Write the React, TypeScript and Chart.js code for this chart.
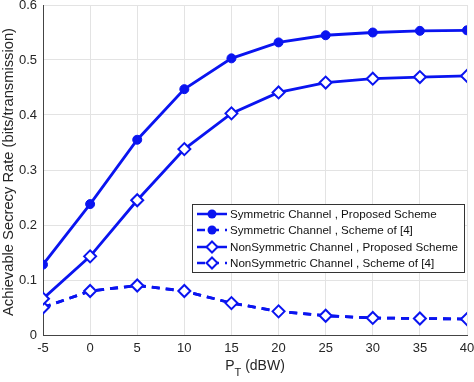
import React, { useEffect, useRef } from "react";
import { Chart, registerables } from "chart.js";

Chart.register(...registerables);

const xValues = [-5, 0, 5, 10, 15, 20, 25, 30, 35, 40];
const symProposed = [0.128, 0.238, 0.355, 0.447, 0.503, 0.532, 0.545, 0.55, 0.553, 0.554];
const symScheme4 = [0.05, 0.08, 0.09, 0.08, 0.058, 0.043, 0.035, 0.031, 0.03, 0.029];
const nonSymProposed = [0.066, 0.143, 0.245, 0.338, 0.403, 0.441, 0.459, 0.466, 0.469, 0.471];
const nonSymScheme4 = [0.05, 0.08, 0.09, 0.08, 0.058, 0.043, 0.035, 0.031, 0.03, 0.029];
const seriesLabels = [
  "Symmetric Channel , Proposed Scheme",
  "Symmetric Channel , Scheme of [4]",
  "NonSymmetric Channel , Proposed Scheme",
  "NonSymmetric Channel , Scheme of [4]",
];
const xTicks = [-5, 0, 5, 10, 15, 20, 25, 30, 35, 40];
const yTicks = [0, 0.1, 0.2, 0.3, 0.4, 0.5, 0.6];
const yTitle = "Achievable Secrecy Rate (bits/transmission)";

const BLUE = "#0a14f0";
const FONT = "'Liberation Sans', Arial, sans-serif";

function fitFont(ctx: CanvasRenderingContext2D, text: string, target: number) {
  ctx.font = `12px ${FONT}`;
  const w = ctx.measureText(text).width;
  return (12 * target) / w;
}

function zeroPad(s: any) {
  s.paddingTop = 0;
  s.paddingBottom = 0;
  s.paddingLeft = 0;
  s.paddingRight = 0;
}

const titlesAndLegend = {
  id: "titlesAndLegend",
  afterDraw(chart: any) {
    const ctx = chart.ctx;
    const area = chart.chartArea;
    ctx.save();
    // x title with subscript
    ctx.fillStyle = "#262626";
    ctx.textBaseline = "alphabetic";
    const p = "P";
    const rest = " (dBW)";
    ctx.font = `14px ${FONT}`;
    const wP = ctx.measureText(p).width;
    ctx.font = `11px ${FONT}`;
    const wT = ctx.measureText("T").width;
    ctx.font = `14px ${FONT}`;
    const wR = ctx.measureText(rest).width;
    const total = wP + wT + wR;
    const cx = (area.left + area.right) / 2;
    const x0 = cx - total / 2;
    const base = 370;
    ctx.textAlign = "left";
    ctx.fillText(p, x0, base);
    ctx.font = `11px ${FONT}`;
    ctx.fillText("T", x0 + wP, base + 6);
    ctx.font = `14px ${FONT}`;
    ctx.fillText(rest, x0 + wP + wT, base);

    // y title
    const ys = fitFont(ctx, yTitle, 288);
    ctx.save();
    ctx.translate(13, 172);
    ctx.rotate(-Math.PI / 2);
    ctx.textAlign = "center";
    ctx.textBaseline = "alphabetic";
    ctx.font = `${ys}px ${FONT}`;
    ctx.fillText(yTitle, 0, 0);
    ctx.restore();

    // legend
    const ls = fitFont(ctx, seriesLabels[0], 207);
    const bx = 192, by = 204, bw = 272, bh = 68;
    ctx.fillStyle = "#ffffff";
    ctx.fillRect(bx, by, bw, bh);
    ctx.strokeStyle = "#333333";
    ctx.lineWidth = 1;
    ctx.strokeRect(bx + 0.5, by + 0.5, bw, bh);
    const rows = [214, 230, 247, 263];
    chart.data.datasets.forEach((ds: any, i: number) => {
      const y = rows[i];
      ctx.strokeStyle = BLUE;
      ctx.lineWidth = 2.5;
      ctx.setLineDash(ds.borderDash || []);
      ctx.beginPath();
      ctx.moveTo(197, y);
      ctx.lineTo(227, y);
      ctx.stroke();
      ctx.setLineDash([]);
      const mx = 212;
      if (ds.pointStyle === "rectRot") {
        const r = 5.5;
        ctx.beginPath();
        ctx.moveTo(mx, y - r);
        ctx.lineTo(mx + r, y);
        ctx.lineTo(mx, y + r);
        ctx.lineTo(mx - r, y);
        ctx.closePath();
        ctx.fillStyle = "#ffffff";
        ctx.fill();
        ctx.lineWidth = 2;
        ctx.stroke();
      } else {
        ctx.beginPath();
        ctx.arc(mx, y, 4.5, 0, Math.PI * 2);
        ctx.fillStyle = BLUE;
        ctx.fill();
      }
      ctx.fillStyle = "#111111";
      ctx.font = `${ls}px ${FONT}`;
      ctx.textAlign = "left";
      ctx.textBaseline = "middle";
      ctx.fillText(ds.label, 230, y + 0.5);
    });
    ctx.restore();
  },
};

export default function App() {
  const ref = useRef<HTMLCanvasElement | null>(null);
  useEffect(() => {
    document.body.style.margin = "0";
    const canvas = ref.current!;
    const mk = (vals: number[]) => xValues.map((x, i) => ({ x, y: vals[i] }));
    const chart = new Chart(canvas, {
      type: "line",
      data: {
        datasets: [
          {
            label: seriesLabels[0],
            data: mk(symProposed),
            borderColor: BLUE,
            backgroundColor: BLUE,
            borderWidth: 2.8,
            pointStyle: "circle",
            pointRadius: 4.5,
            pointBackgroundColor: BLUE,
            pointBorderColor: BLUE,
            pointBorderWidth: 1,
            order: 0,
          },
          {
            label: seriesLabels[1],
            data: mk(symScheme4),
            borderColor: BLUE,
            backgroundColor: BLUE,
            borderWidth: 2.8,
            borderDash: [8, 6],
            pointStyle: "circle",
            pointRadius: 2,
            pointBackgroundColor: BLUE,
            pointBorderColor: BLUE,
            order: 5,
          },
          {
            label: seriesLabels[2],
            data: mk(nonSymProposed),
            borderColor: BLUE,
            backgroundColor: "#ffffff",
            borderWidth: 2.8,
            pointStyle: "rectRot",
            pointRadius: 6,
            pointBackgroundColor: "#ffffff",
            pointBorderColor: BLUE,
            pointBorderWidth: 2,
            order: 0,
          },
          {
            label: seriesLabels[3],
            data: mk(nonSymScheme4),
            borderColor: BLUE,
            backgroundColor: "#ffffff",
            borderWidth: 2.8,
            borderDash: [8, 6],
            pointStyle: "rectRot",
            pointRadius: 6,
            pointBackgroundColor: "#ffffff",
            pointBorderColor: BLUE,
            pointBorderWidth: 2,
            order: 0,
          },
        ] as any,
      },
      options: {
        animation: false,
        responsive: false,
        maintainAspectRatio: false,
        layout: { padding: { top: 5, right: 7, left: 0, bottom: 0 }, autoPadding: false } as any,
        plugins: {
          legend: { display: false },
          tooltip: { enabled: false },
        },
        scales: {
          x: {
            type: "linear",
            min: -5,
            max: 40,
            afterBuildTicks: (s: any) => {
              s.ticks = xTicks.map((v) => ({ value: v }));
            },
            afterFit: (s: any) => {
              s.height = 47;
              zeroPad(s);
            },
            ticks: {
              color: "#262626",
              font: { family: FONT, size: 13 },
              padding: 6,
              maxRotation: 0,
              autoSkip: false,
              callback: (v: any) => String(v),
            },
            grid: { color: "#e3e3e3", lineWidth: 1, drawTicks: false },
            border: { color: "#444444", width: 1 },
          },
          y: {
            type: "linear",
            min: 0,
            max: 0.6,
            afterBuildTicks: (s: any) => {
              s.ticks = yTicks.map((v) => ({ value: v }));
            },
            afterFit: (s: any) => {
              s.width = 43;
              zeroPad(s);
            },
            ticks: {
              color: "#262626",
              font: { family: FONT, size: 13 },
              padding: 6,
              autoSkip: false,
              callback: (v: any) => (Math.round(v * 10) / 10).toString(),
            },
            grid: { color: "#e3e3e3", lineWidth: 1, drawTicks: false },
            border: { color: "#444444", width: 1 },
          },
        },
      },
      plugins: [titlesAndLegend],
    });
    return () => chart.destroy();
  }, []);
  return <canvas ref={ref} width={474} height={382} style={{ display: "block" }} />;
}
